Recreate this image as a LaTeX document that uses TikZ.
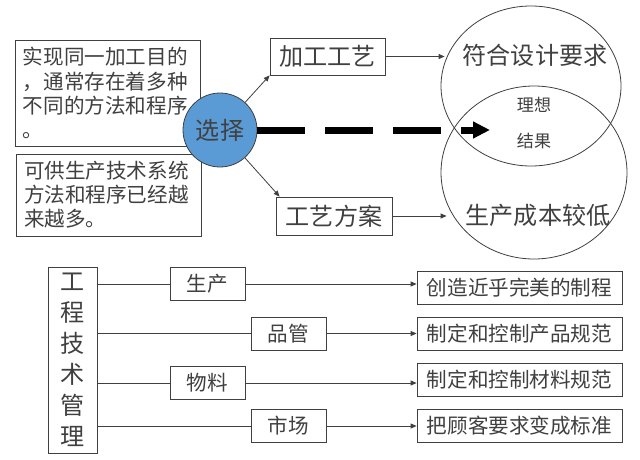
\documentclass[tikz,border=0pt]{standalone}
\usepackage{fontspec}
\setmainfont{Noto Sans CJK SC}
\usetikzlibrary{arrows.meta,shapes.geometric}
\definecolor{linegray}{HTML}{404040}
\definecolor{choiceblue}{HTML}{5B9BD5}
\begin{document}
\begin{tikzpicture}[x=1pt,y=-1pt,every node/.style={font=\fontsize{20.5bp}{24bp}\selectfont,text=linegray,inner sep=0pt},box/.style={draw=linegray,line width=0.8pt},arr/.style={draw=linegray,line width=0.8pt,-{Triangle[length=6pt,width=5pt]}}]
\useasboundingbox[fill=white] (0,0) rectangle (640,460);
\node[box,inner xsep=8pt,text width=169pt,align=left,minimum height=106pt] (aim) at (107.5,93) {实现同一加工目的\\，通常存在着多种\\不同的方法和程序\\。};
\node[box,inner xsep=8pt,text width=169pt,align=left,minimum height=82pt] (means) at (108.5,195) {可供生产技术系统\\方法和程序已经越\\来越多。};
\node[circle,draw=linegray,line width=0.8pt,fill=choiceblue,minimum size=74pt,font=\fontsize{24bp}{28bp}\selectfont] (choice) at (220,130) {选择};
\node[box,minimum width=115pt,minimum height=37pt,font=\fontsize{24bp}{28bp}\selectfont] (craft) at (327.5,56.5) {加工工艺};
\node[box,minimum width=116pt,minimum height=38pt,font=\fontsize{24bp}{28bp}\selectfont] (plan) at (334,216) {工艺方案};
\node[ellipse,draw=linegray,line width=0.8pt,minimum width=180pt,minimum height=160pt] (spec) at (531,86) {};
\node[ellipse,draw=linegray,line width=0.8pt,minimum width=186pt,minimum height=173pt] (cost) at (534,172.5) {};
\node[font=\fontsize{24bp}{28bp}\selectfont] (specl) at (535,55) {符合设计要求};
\node[font=\fontsize{24bp}{28bp}\selectfont] (costl) at (538,215) {生产成本较低};
\node[align=center,font=\fontsize{17bp}{35bp}\selectfont] (ideal) at (534,123) {理想\\结果};
\coordinate (idealtip) at (490,128);
\draw[arr] (choice) -- (craft.south west);
\draw[arr] (choice) -- ([xshift=4pt]plan.north west);
\draw[arr] (craft.east) -- ([xshift=4pt]craft.east -| spec.west);
\draw[arr] (plan.east) -- ([xshift=6pt]plan.east -| cost.west);
\draw[line width=7pt,dash pattern=on 48pt off 20pt,-{Triangle[length=17pt,width=16pt]}] (choice.east) -- (choice.east -| idealtip);
\node[box,minimum width=49pt,minimum height=186pt,align=center,font=\fontsize{24bp}{31bp}\selectfont] (mgmt) at (72.5,360) {工\\程\\技\\术\\管\\理};
\node[box,minimum width=75pt,minimum height=33pt] (prod) at (207.5,284) {生产};
\node[box,minimum width=75pt,minimum height=33pt] (qc) at (288.5,333.5) {品管};
\node[box,minimum width=75pt,minimum height=33pt] (matl) at (207.5,383) {物料};
\node[box,minimum width=75pt,minimum height=33pt] (mkt) at (288.5,426) {市场};
\node[box,minimum width=205pt,minimum height=33pt] (goal1) at (519.5,288) {创造近乎完美的制程};
\node[box,minimum width=205pt,minimum height=33pt] (goal2) at (519.5,333.5) {制定和控制产品规范};
\node[box,minimum width=205pt,minimum height=33pt] (goal3) at (519.5,379.5) {制定和控制材料规范};
\node[box,minimum width=205pt,minimum height=33pt] (goal4) at (519.5,425.5) {把顾客要求变成标准};
\draw[box] (mgmt.east |- prod) -- (prod.west);
\draw[box] (mgmt.east |- qc) -- (qc.west);
\draw[box] (mgmt.east |- matl) -- (matl.west);
\draw[box] (mgmt.east |- mkt) -- (mkt.west);
\draw[arr] (prod.east) -- (prod.east -| goal1.west);
\draw[arr] (qc.east) -- (qc.east -| goal2.west);
\draw[arr] (matl.east) -- (matl.east -| goal3.west);
\draw[arr] (mkt.east) -- (mkt.east -| goal4.west);
\end{tikzpicture}
\end{document}
